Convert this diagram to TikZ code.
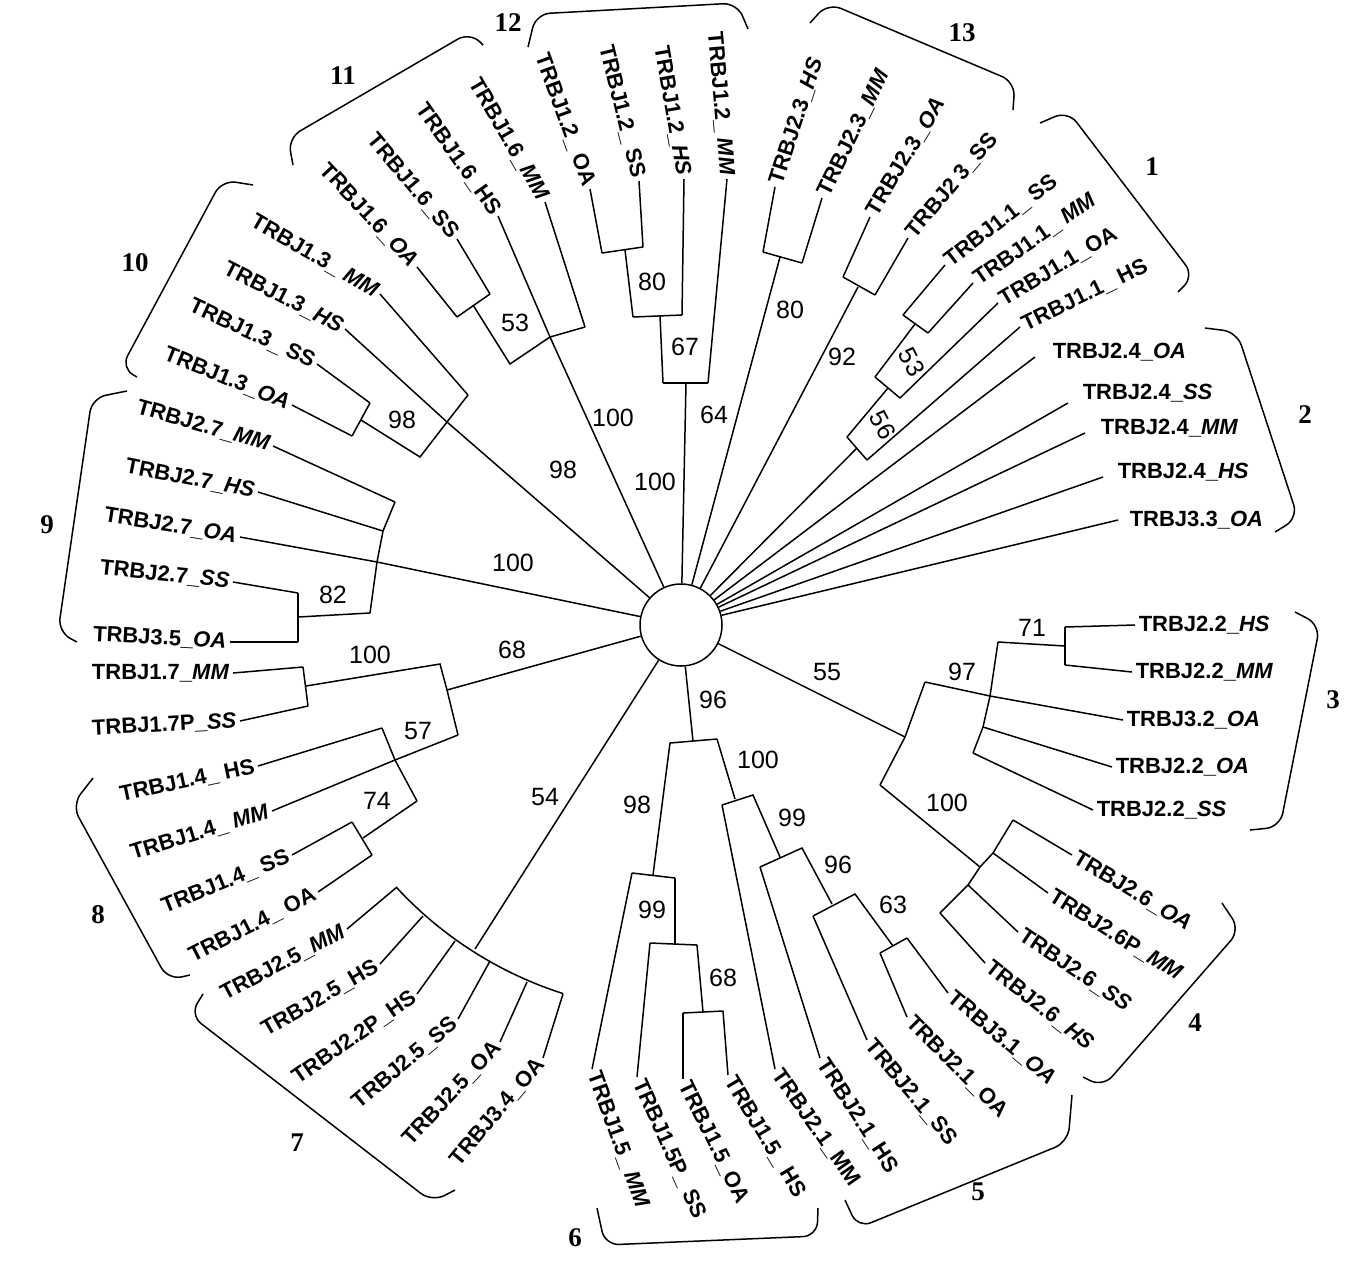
\documentclass[tikz,border=0pt]{standalone}
\usepackage{fontspec}
\setmainfont{Liberation Sans}
\newfontfamily\serifb{Liberation Serif}
\begin{document}
\begin{tikzpicture}[x=1pt,y=-1pt,line width=1.5pt,
  lbl/.style={font=\fontsize{22}{24}\selectfont\bfseries,inner sep=3pt},
  lblE/.style={lbl,anchor=east},
  lblW/.style={lbl,anchor=west},
  bs/.style={font=\fontsize{25}{27}\selectfont,inner sep=0pt},
  cl/.style={font=\fontsize{27}{29}\selectfont\serifb\bfseries,inner sep=0pt},
  brk/.style={rounded corners=14pt}]
\useasboundingbox (0,0) rectangle (1371,1262);
\node[circle,draw,minimum size=82pt,inner sep=0pt] (ctr) at (681,625) {};
\newcommand\leafE[6]{\coordinate (#1b) at (#2); \coordinate (#1t) at (#3);
  \draw (#1b) -- (#1t); \node[lblE,rotate=#4] (#1) at (#1t) {#5\textit{#6}};}
\newcommand\leafW[6]{\coordinate (#1b) at (#2); \coordinate (#1t) at (#3);
  \draw (#1b) -- (#1t); \node[lblW,rotate=#4] (#1) at (#1t) {#5\textit{#6}};}
\newcommand\leafU[6]{\coordinate (#1b) at (#2); \coordinate (#1t) at (#3);
  \draw (#1b) -- (#1t); \node[lblW,rotate=#4] (#1) at (#1t) {#5#6};}
\newcommand\leafEU[6]{\coordinate (#1b) at (#2); \coordinate (#1t) at (#3);
  \draw (#1b) -- (#1t); \node[lblE,rotate=#4] (#1) at (#1t) {#5#6};}
% ---- clade 12
\leafEU{la}{602,253}{590,189}{-70}{TRBJ1.2\_ }{OA}
\leafEU{lb}{643,247}{639,181}{-76}{TRBJ1.2\_ }{SS}
\leafE{lc}{682,315}{684,179}{-80}{TRBJ1.2\_}{HS}
\leafE{ld}{708,383}{727,179}{-85}{TRBJ1.2\_ }{MM}
\coordinate (n12a) at (625,250); \coordinate (n12b) at (633,317);
\coordinate (n12c) at (660,316); \coordinate (n12d) at (663,383); \coordinate (n12e) at (686,383);
\draw (lab) -- (lbb); \draw (n12a) -- (n12b); \draw (n12b) -- (lcb);
\draw (n12c) -- (n12d); \draw (n12d) -- (ldb); \draw (n12e) -- (ctr);
\node[bs] (b80a) at (652,282) {80}; \node[bs] (b67) at (685,347) {67};
\node[bs] (b64) at (714,415) {64}; \node[bs] (b100a) at (655,482) {100};
% ---- clade 11
\leafE{ma}{457,317}{417,267}{-47}{TRBJ1.6\_}{OA}
\leafEU{mb}{490,294}{457,239}{-50}{TRBJ1.6\_}{SS}
\leafEU{mc}{550,337}{498,216}{-55}{TRBJ1.6\_}{HS}
\leafE{md}{585,327}{545,202}{-60}{TRBJ1.6\_}{MM}
\coordinate (n11a) at (473,305); \coordinate (n11b) at (510,364);
\draw (mab) -- (mbb); \draw (n11a) -- (n11b) -- (mcb) -- (mdb); \draw (mcb) -- (ctr);
\node[bs] (b53a) at (515,323) {53}; \node[bs] (b100b) at (613,418) {100};
% ---- clade 10
\leafE{na}{468,395}{380,294}{-30}{TRBJ1.3\_ }{MM}
\leafE{nb}{447,422}{345,329}{-27}{TRBJ1.3\_}{HS}
\leafEU{nc}{370,403}{317,364}{-25}{TRBJ1.3\_ }{SS}
\leafE{nd}{352,436}{292,405}{-22}{TRBJ1.3\_}{OA}
\coordinate (n10a) at (361,420); \coordinate (n10b) at (420,457);
\draw (ndb) -- (ncb); \draw (n10a) -- (n10b) -- (nbb) -- (nab); \draw (nbb) -- (ctr);
\node[bs] (b98a) at (402,420) {98}; \node[bs] (b98b) at (563,470) {98};
% ---- clade 9
\leafE{oa}{395,502}{273,446}{-16}{TRBJ2.7\_}{MM}
\leafE{ob}{383,531}{258,492}{-11}{TRBJ2.7\_}{HS}
\leafE{oc}{377,562}{240,537}{-9}{TRBJ2.7\_}{OA}
\leafE{od}{298,593}{233,582}{-6}{TRBJ2.7\_}{SS}
\leafE{oe}{298,642}{230,642}{-3}{TRBJ3.5\_}{OA}
\coordinate (n9a) at (298,617); \coordinate (n9b) at (370,613);
\draw (odb) -- (oeb); \draw (n9a) -- (n9b); \draw (oab) -- (obb) -- (ocb) -- (n9b);
\draw (ocb) -- (ctr);
\node[bs] (b82) at (333,595) {82}; \node[bs] (b100c) at (513,563) {100};
% ---- 1.7 group and clade 8
\leafE{pa}{303,667}{233,673}{0}{TRBJ1.7\_}{MM}
\leafE{pb}{308,706}{240,721}{3}{TRBJ1.7P\_}{SS}
\coordinate (n7a) at (306,686); \coordinate (n7b) at (440,664);
\coordinate (n7c) at (447,690); \coordinate (n7d) at (458,735);
\draw (pab) -- (pbb); \draw (n7a) -- (n7b) -- (n7c) -- (n7d); \draw (n7c) -- (ctr);
\node[bs] (b100d) at (370,655) {100}; \node[bs] (b68a) at (512,650) {68};
\leafEU{qa}{382,728}{258,766}{12}{TRBJ1.4\_ }{HS}
\leafE{qb}{395,760}{272,811}{17}{TRBJ1.4\_ }{MM}
\leafEU{qc}{352,822}{292,855}{22}{TRBJ1.4\_ }{SS}
\leafEU{qd}{372,855}{318,892}{27}{TRBJ1.4\_ }{OA}
\coordinate (n8a) at (417,801); \coordinate (n8b) at (363,838);
\draw (qab) -- (qbb) -- (n8a); \draw (qbb) -- (n7d); \draw (n8a) -- (n8b);
\draw (qcb) -- (qdb);
\node[bs] (b57) at (418,731) {57}; \node[bs] (b74) at (377,801) {74};
% ---- clade 7
\coordinate (arcA) at (396.5,887.4);
\draw (arcA) arc[start angle=137.3,end angle=107.7,radius=387];
\leafE{ra}{397,887}{347,929}{28}{TRBJ2.5\_}{MM}
\leafEU{rb}{423,916}{380,964}{30}{TRBJ2.5\_}{HS}
\leafEU{rc}{455,941}{417,994}{35}{TRBJ2.2P\_}{HS}
\leafEU{rd}{490,961}{458,1019}{40}{TRBJ2.5\_}{SS}
\leafEU{re}{527,982}{500,1042}{47}{TRBJ2.5\_}{OA}
\leafEU{rf}{563,994}{543,1058}{50}{TRBJ3.4\_}{OA}
\coordinate (n7r) at (475,949); \draw (n7r) -- (ctr);
\node[bs] (b54) at (545,797) {54};
% ---- clade 6
\leafW{sa}{632,873}{592,1069}{-70}{TRBJ1.5\_ }{MM}
\leafU{sb}{650,943}{637,1077}{-66}{TRBJ1.5P\_ }{SS}
\leafU{sc}{683,1013}{683,1079}{-64}{TRBJ1.5\_}{OA}
\leafU{sd}{723,1011}{728,1075}{-59}{TRBJ1.5\_ }{HS}
\coordinate (n6a) at (703,1012); \coordinate (n6b) at (697,945);
\coordinate (n6c) at (675,944); \coordinate (n6d) at (675,878);
\coordinate (n6e) at (653,875); \coordinate (n6f) at (670,743);
\coordinate (n6g) at (717,739); \coordinate (n6h) at (693,741);
\draw (scb) -- (sdb); \draw (n6a) -- (n6b); \draw (sbb) -- (n6b);
\draw (n6c) -- (n6d); \draw (sab) -- (n6d); \draw (n6e) -- (n6f) -- (n6g);
\draw (n6h) -- (ctr);
\node[bs] (b98c) at (637,805) {98}; \node[bs] (b99a) at (652,910) {99};
\node[bs] (b68b) at (723,978) {68}; \node[bs] (b96a) at (713,700) {96};
% ---- clade 5
\leafU{ta}{722,805}{775,1069}{-55}{TRBJ2.1\_}{MM}
\leafU{tb}{760,867}{820,1058}{-57}{TRBJ2.1\_}{HS}
\leafU{tc}{813,916}{867,1040}{-50}{TRBJ2.1\_}{SS}
\leafU{td}{880,953}{907,1017}{-45}{TRBJ2.1\_}{OA}
\leafW{te}{907,938}{948,993}{-40}{TRBJ3.1\_}{OA}
\coordinate (n5a) at (735,799); \coordinate (n5b) at (753,795);
\coordinate (n5c) at (780,857); \coordinate (n5d) at (802,848);
\coordinate (n5e) at (832,904); \coordinate (n5f) at (855,894);
\coordinate (n5g) at (893,946);
\draw (n6g) -- (n5a); \draw (tab) -- (n5b) -- (n5c); \draw (tbb) -- (n5d) -- (n5e);
\draw (tcb) -- (n5f) -- (n5g); \draw (tdb) -- (teb);
\node[bs] (b100e) at (758,760) {100}; \node[bs] (b99b) at (792,818) {99};
\node[bs] (b96b) at (838,865) {96}; \node[bs] (b63) at (893,905) {63};
% ---- clade 3 and 4
\leafW{ua}{1065,627}{1135,625}{0}{TRBJ2.2\_}{HS}
\leafW{ub}{1065,665}{1132,672}{0}{TRBJ2.2\_}{MM}
\leafW{uc}{990,696}{1123,720}{0}{TRBJ3.2\_}{OA}
\leafW{ud}{983,727}{1112,767}{0}{TRBJ2.2\_}{OA}
\leafW{ue}{973,753}{1093,810}{0}{TRBJ2.2\_}{SS}
\coordinate (n3a) at (998,642); \coordinate (n3b) at (1065,646);
\coordinate (n3c) at (925,682); \coordinate (n3d) at (905,737); \coordinate (n3e) at (880,785);
\draw (uab) -- (ubb); \draw (n3a) -- (n3b);
\draw (n3a) -- (ucb) -- (udb) -- (ueb); \draw (n3c) -- (ucb);
\draw (n3c) -- (n3d) -- (n3e); \draw (n3d) -- (ctr);
\node[bs] (b71) at (1032,628) {71}; \node[bs] (b97) at (962,672) {97};
\node[bs] (b55) at (827,672) {55}; \node[bs] (b100f) at (947,803) {100};
\leafW{va}{1013,820}{1072,855}{-31}{TRBJ2.6\_}{OA}
\leafW{vb}{993,853}{1048,893}{-32}{TRBJ2.6P\_}{MM}
\leafW{vc}{968,885}{1018,932}{-34}{TRBJ2.6\_}{SS}
\leafW{vd}{940,913}{985,963}{-38}{TRBJ2.6\_}{HS}
\coordinate (n4a) at (980,867);
\draw (vab) -- (vbb) -- (n4a) -- (vcb) -- (vdb); \draw (n3e) -- (n4a);
% ---- clade 2
\foreach \n/\x/\y/\tx/\ty/\a/\b in {wa/1035/357/1052/352/TRBJ2.4\_/OA, wb/1068/403/1082/393/TRBJ2.4\_/SS,
  wc/1085/433/1100/428/TRBJ2.4\_/MM, wd/1103/477/1117/472/TRBJ2.4\_/HS, we/1118/520/1129/520/TRBJ3.3\_/OA}{
  \coordinate (\n t) at (\x,\y); \draw (\n t) -- (ctr);
  \node[lbl,anchor=west,inner sep=0pt] (\n) at (\tx,\ty) {\a\textit{\b}};}
% ---- clade 1
\leafU{xa}{903,315}{945,265}{38}{TRBJ1.1\_ }{SS}
\leafW{xb}{928,333}{973,283}{35}{TRBJ1.1\_ }{MM}
\leafU{xc}{900,398}{998,303}{31}{TRBJ1.1\_}{OA}
\leafU{xd}{867,460}{1020,327}{26}{TRBJ1.1\_ }{HS}
\coordinate (n1a) at (915,324); \coordinate (n1b) at (888,388);
\coordinate (n1c) at (875,377); \coordinate (n1d) at (857,448); \coordinate (n1e) at (847,437);
\draw (xab) -- (xbb); \draw (n1c) -- (n1a); \draw (n1c) -- (xcb);
\draw (n1e) -- (n1b); \draw (n1e) -- (xdb); \draw (n1d) -- (ctr);
\node[bs,rotate=-62] (b53b) at (912,362) {53}; \node[bs,rotate=-62] (b56) at (883,425) {56};
% ---- clade 13
\leafW{ya}{763,252}{775,187}{72}{TRBJ2.3\_}{HS}
\leafW{yb}{802,263}{822,198}{64}{TRBJ2.3\_}{MM}
\leafW{yc}{843,277}{870,217}{59}{TRBJ2.3\_}{OA}
\leafU{yd}{875,295}{908,238}{50}{TRBJ2 3\_}{SS}
\coordinate (n13a) at (780,257); \coordinate (n13b) at (858,287);
\draw (yab) -- (ybb); \draw (ycb) -- (ydb); \draw (n13a) -- (ctr); \draw (n13b) -- (ctr);
\node[bs] (b80b) at (790,310) {80}; \node[bs] (b92) at (842,357) {92};
% ---- brackets
\draw[brk] (1040,123) -- (1068,111) -- (1194,276) -- (1178,292);
\draw[brk] (1205,328) -- (1237,332) -- (1298,518) -- (1275,532);
\draw[brk] (1295,612) -- (1320,625) -- (1280,827) -- (1250,830);
\draw[brk] (1222,903) -- (1240,930) -- (1103,1087) -- (1083,1077);
\draw[brk] (845,1200) -- (858,1228) -- (1068,1142) -- (1072,1095);
\draw[brk] (597,1208) -- (605,1245) -- (817,1236) -- (818,1208);
\draw[brk] (203,994) -- (190,1015) -- (432,1202) -- (455,1190);
\draw[brk] (93,778) -- (72,805) -- (168,980) -- (190,975);
\draw[brk] (127,391) -- (92,398) -- (58,632) -- (77,642);
\draw[brk] (253,185) -- (222,180) -- (121,368) -- (137,377);
\draw[brk] (293,165) -- (288,138) -- (470,32) -- (483,45);
\draw[brk] (528,47) -- (536,14) -- (737,3) -- (748,29);
\draw[brk] (810,23) -- (828,3) -- (1015,82) -- (1013,110);
% ---- cluster numbers
\foreach \t/\x/\y in {1/1152/167,2/1305/415,3/1333/700,4/1195/1023,5/978/1192,6/575/1238,
  7/297/1143,8/98/915,9/47/525,10/135/263,11/343/76,12/508/23,13/962/33}
  \node[cl] (k\t) at (\x,\y) {\t};
\end{tikzpicture}
\end{document}
